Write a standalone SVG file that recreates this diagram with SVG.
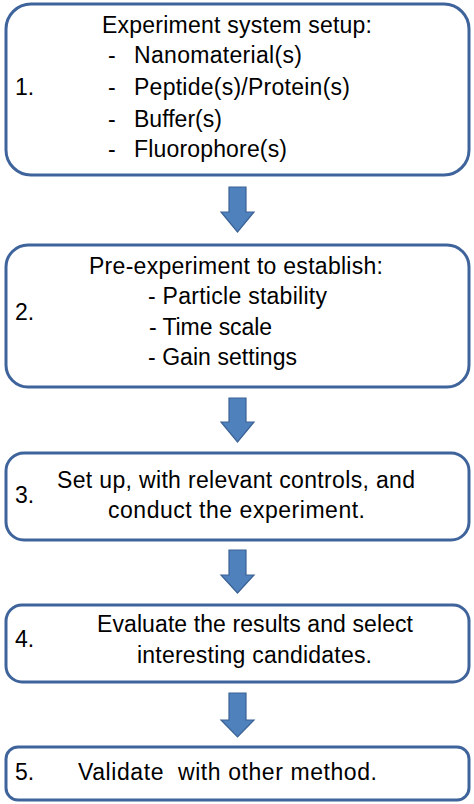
<svg xmlns="http://www.w3.org/2000/svg" width="474" height="804" viewBox="0 0 474 804">
<style>
.box{fill:#ffffff;stroke:#3f649c;stroke-width:3}
.arr{fill:#4f81bd;stroke:#3b6295;stroke-width:1.2}
text{font-family:"Liberation Sans",Arial,sans-serif;font-size:23px;fill:#000000;white-space:pre}
</style>
<rect width="474" height="804" fill="#ffffff"/>
<g id="connectors">
<polygon class="arr" points="229,187 246,187 246,212 254,212 237.5,232 221,212 229,212"/>
<polygon class="arr" points="229,398 246,398 246,422 254,422 237.5,442 221,422 229,422"/>
<polygon class="arr" points="229,550 246,550 246,575 254,575 237.5,593 221,575 229,575"/>
<polygon class="arr" points="229,693 246,693 246,720 254,720 237.5,737 221,720 229,720"/>
</g>
<g id="node1">
<rect class="box" x="6" y="4" width="463" height="171" rx="25"/>
<text x="15" y="95">1.</text>
<text x="102" y="33" textLength="270">Experiment system setup:</text>
<text x="108" y="63">-</text><text x="134" y="63" textLength="168">Nanomaterial(s)</text>
<text x="108" y="95">-</text><text x="134" y="95" textLength="216">Peptide(s)/Protein(s)</text>
<text x="108" y="127">-</text><text x="134" y="127" textLength="88">Buffer(s)</text>
<text x="108" y="157">-</text><text x="134" y="157" textLength="153">Fluorophore(s)</text>
</g>
<g id="node2">
<rect class="box" x="6" y="245" width="463" height="142" rx="22"/>
<text x="15" y="320">2.</text>
<text x="89" y="274" textLength="294">Pre-experiment to establish:</text>
<text x="148" y="304" textLength="179">- Particle stability</text>
<text x="149" y="335" textLength="123">- Time scale</text>
<text x="148" y="365" textLength="149">- Gain settings</text>
</g>
<g id="node3">
<rect class="box" x="6" y="453" width="463" height="87" rx="18"/>
<text x="15" y="503">3.</text>
<text x="57" y="488" textLength="358">Set up, with relevant controls, and</text>
<text x="108" y="518" textLength="257">conduct the experiment.</text>
</g>
<g id="node4">
<rect class="box" x="6" y="605" width="463" height="77" rx="16"/>
<text x="15" y="647">4.</text>
<text x="97" y="632" textLength="316">Evaluate the results and select</text>
<text x="137" y="663" textLength="235">interesting candidates.</text>
</g>
<g id="node5">
<rect class="box" x="6" y="747" width="463" height="53" rx="12"/>
<text x="15" y="780">5.</text>
<text x="78" y="780" textLength="299">Validate  with other method.</text>
</g>
</svg>
